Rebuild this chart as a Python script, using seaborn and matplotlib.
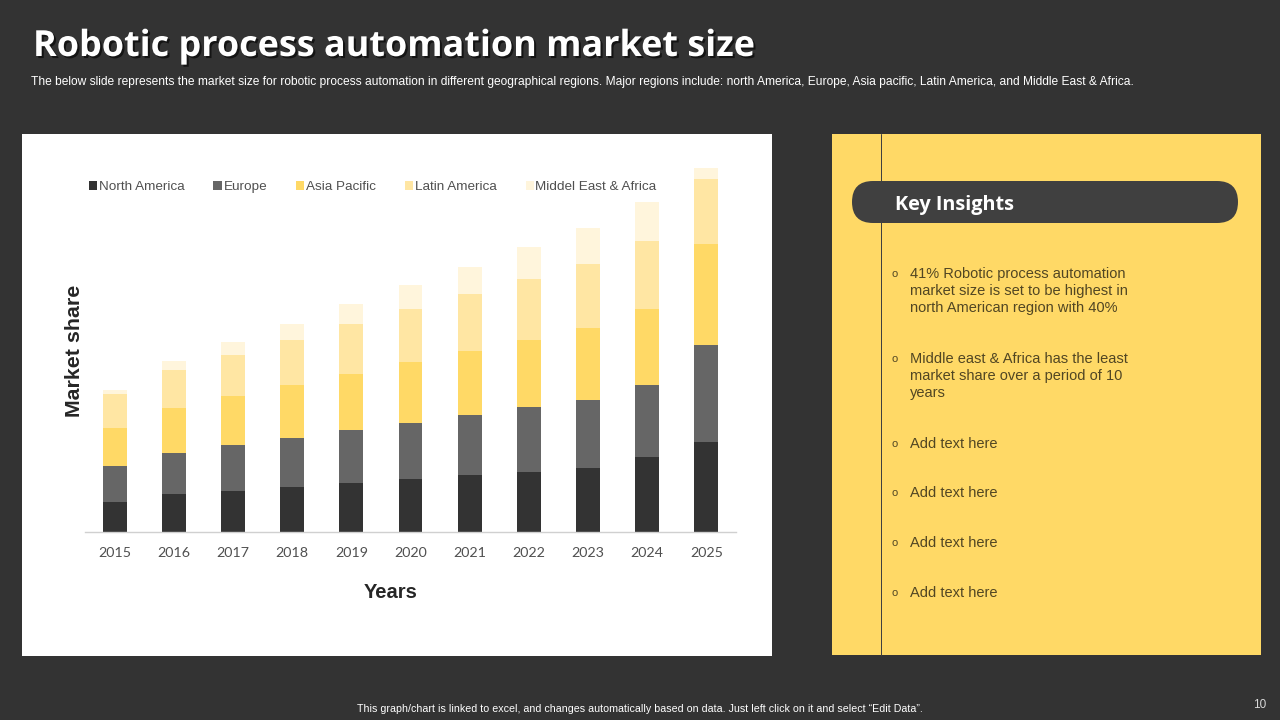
"""Robotic process automation market size: slide with stacked bars and key insights."""
import matplotlib
matplotlib.use("Agg")
import matplotlib.patheffects as pe
import matplotlib.pyplot as plt
from matplotlib.patches import FancyBboxPatch, Rectangle
import seaborn as sns

YEARS = ["2015", "2016", "2017", "2018", "2019", "2020", "2021", "2022", "2023", "2024", "2025"]
NORTH_AMERICA = [30, 38, 41, 45, 49, 53, 57, 60, 64, 75, 90]
EUROPE = [36, 41, 46, 49, 53, 56, 60, 65, 68, 72, 97]
ASIA_PACIFIC = [38, 45, 49, 53, 56, 61, 64, 67, 72, 76, 101]
LATIN_AMERICA = [34, 38, 41, 45, 50, 53, 57, 61, 64, 68, 65]
MIDDLE_EAST = [4, 9, 13, 16, 20, 24, 27, 32, 36, 39, 11]

SERIES_NAMES = ["North America", "Europe", "Asia Pacific", "Latin America", "Middel East & Africa"]
SERIES_COLORS = ["#333333", "#666666", "#FFD966", "#FFE6A3", "#FFF5DC"]

TITLE = "Robotic process automation market size"
SUBTITLE = ("The below slide represents the market size for robotic process automation in different "
            "geographical regions. Major regions include: north America, Europe, Asia pacific, "
            "Latin America, and Middle East & Africa.")
FOOTER = "This graph/chart is linked to excel, and changes automatically based on data. Just left click on it and select \u201cEdit Data\u201d."
INSIGHTS = [
    "41% Robotic process automation\nmarket size is set to be highest in\nnorth American region with 40%",
    "Middle east & Africa has the least\nmarket share over a period of 10\nyears",
    "Add text here",
    "Add text here",
    "Add text here",
    "Add text here",
]

W, H = 1280, 720
BG = "#333333"
YELLOW = "#FFD966"
BODY = "Liberation Sans"

sns.set_theme(style="white", rc={"font.family": BODY})
fig = plt.figure(figsize=(W / 100, H / 100), dpi=100, facecolor=BG)


def px(x, y):
    return x / W, 1 - y / H


def label(x, y, s, **kw):
    kw.setdefault("va", "center")
    kw.setdefault("family", BODY)
    fxy = px(x, y)
    return fig.text(fxy[0], fxy[1], s, **kw)


def panel(x0, y0, x1, y1, color):
    fig.add_artist(Rectangle(px(x0, y1), (x1 - x0) / W, (y1 - y0) / H, transform=fig.transFigure,
                             facecolor=color, edgecolor="none", zorder=-5))


panel(22, 134, 772, 656, "white")
panel(832, 134, 1261, 655, YELLOW)

# chart axes: the baseline sits at y=532, the top of the 2025 bar at y=168
left, bottom = px(85, 532)
ax = fig.add_axes([left, bottom, (736 - 85) / W, (532 - 168) / H], facecolor="none")
base = [0] * len(YEARS)
for name, values, color in zip(SERIES_NAMES, [NORTH_AMERICA, EUROPE, ASIA_PACIFIC, LATIN_AMERICA, MIDDLE_EAST],
                               SERIES_COLORS):
    sns.barplot(x=YEARS, y=values, bottom=base, color=color, saturation=1, width=0.405,
                label=name, legend=False, ax=ax, linewidth=0, errorbar=None)
    base = [b + v for b, v in zip(base, values)]

ax.set_xlim(-0.5, len(YEARS) - 0.5)
ax.set_ylim(0, max(base))
ax.set(xlabel="", ylabel="", yticks=[])
sns.despine(ax=ax, left=True)
ax.spines["bottom"].set_color("#D0D0D0")
ax.spines["bottom"].set_linewidth(1)
ax.tick_params(axis="x", length=0, pad=11, labelsize=10.3, labelcolor="#505050")
for t in ax.get_xticklabels():
    t.set_family("Lato")

ax.legend(ncol=5, frameon=False, loc="center left", bbox_to_anchor=(0.006, 0.9478), borderaxespad=0,
          borderpad=0, handlelength=0.62, handleheight=0.62, handletextpad=0.12, columnspacing=2.15,
          prop={"family": BODY, "size": 9.7}, labelcolor="#505050")

label(75, 351, "Market share", rotation=90, ha="center", fontsize=15.4, fontweight="bold", color="#262626")
label(391, 592, "Years", ha="center", fontsize=14.5, fontweight="bold", color="#262626")

# header and footer
title = label(33, 56, TITLE, va="baseline", family="Open Sans", fontsize=25.9, fontweight="bold", color="white")
title.set_path_effects([pe.withSimplePatchShadow(offset=(1.5, -1.5), shadow_rgbFace="black", alpha=0.6)])
label(31, 82, SUBTITLE, fontsize=8.66, color="white")
label(640, 708.5, FOOTER, ha="center", fontsize=7.69, color="white")
label(1266, 704.5, "10", ha="right", fontsize=8.5, color="#D9D9D9")

# key insights panel
fig.add_artist(plt.Line2D([880.5 / W, 880.5 / W], [1 - 134 / H, 1 - 655 / H], color="#404040", linewidth=0.72, zorder=-4))
pill = FancyBboxPatch((873, H - 223 + 21), 344, 0, boxstyle="round,pad=21,rounding_size=21",
                      transform=None, facecolor="#404040", edgecolor="none", zorder=-3)
fig.add_artist(pill)
label(895, 210, "Key Insights", va="baseline", family="Open Sans", fontsize=14.3, fontweight="bold", color="white")

for y, text in zip([273, 358, 443, 492, 542, 592], INSIGHTS):
    label(895, y + 1, "o", ha="center", fontsize=8, color="#514623")
    label(910, y - 6, text, va="top", fontsize=10.5, color="#514623", linespacing=1.29)

fig.savefig("out.png", dpi=100, facecolor=BG)
